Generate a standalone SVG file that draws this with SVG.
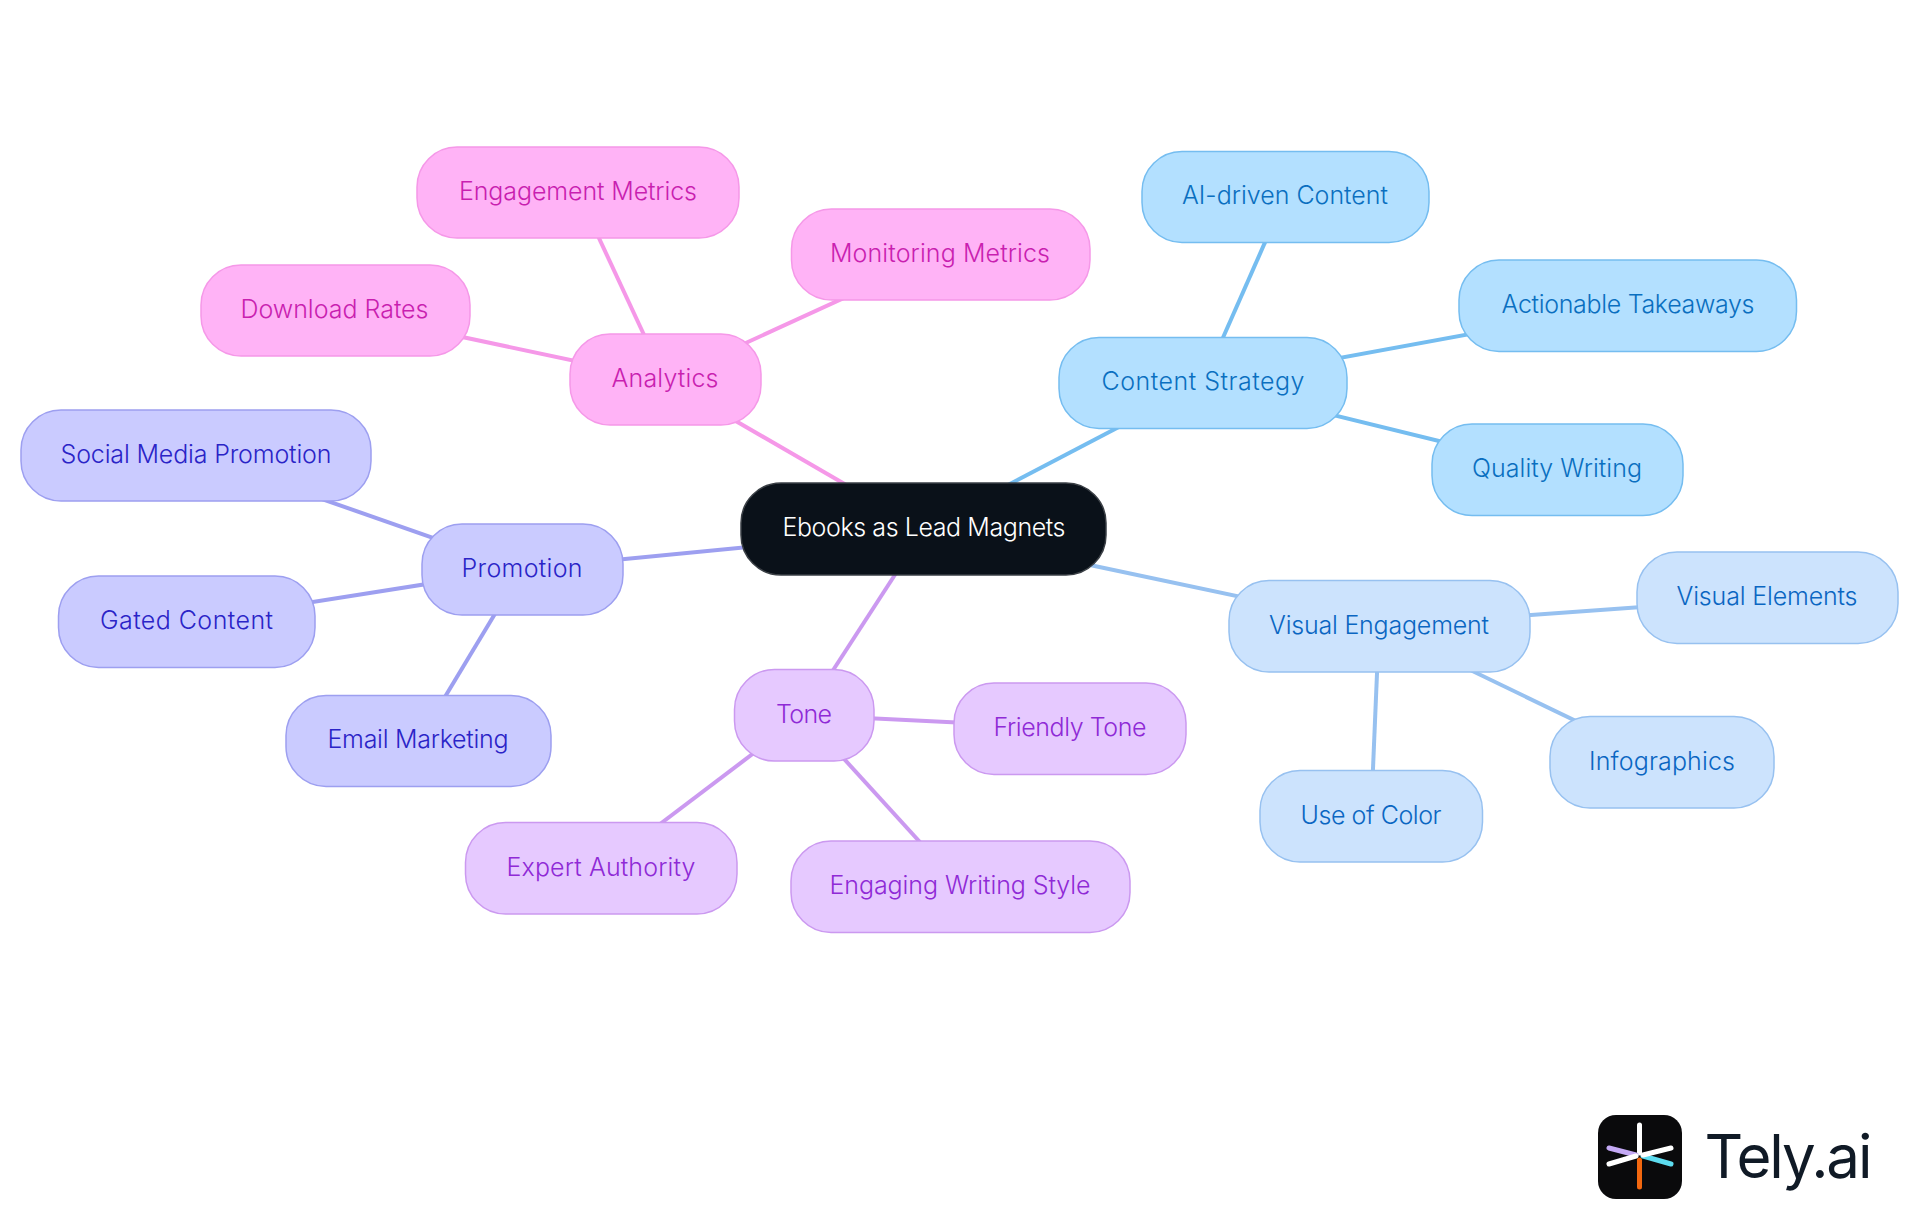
<svg xmlns="http://www.w3.org/2000/svg" width="1920" height="1215" viewBox="0 0 1920 1215">
<style>
text{font-family:"Inter","Noto Sans","Liberation Sans",sans-serif;font-size:25px;font-weight:350;text-anchor:middle}
.n rect{stroke-width:1.5;rx:40px}
#edges line{stroke-width:4;fill:none}
.pink rect{fill:#ffb3f6;stroke:#f598e8}.pink text{fill:#c91fb0}.pink-l{stroke:#f598e8}
.blue rect{fill:#b3e0ff;stroke:#75bdf0}.blue text{fill:#0a6fc0}.blue-l{stroke:#75bdf0}
.sky rect{fill:#cce3fd;stroke:#97c1f0}.sky text{fill:#0a66c2}.sky-l{stroke:#97c1f0}
.ind rect{fill:#cacbff;stroke:#9d9ff0}.ind text{fill:#2a24c7}.ind-l{stroke:#9d9ff0}
.pur rect{fill:#e6c9ff;stroke:#cb99f0}.pur text{fill:#8f2ad6}.pur-l{stroke:#cb99f0}
</style>
<rect width="1920" height="1215" fill="#fff"/>
<g id="edges">
<line class="pink-l" x1="924" y1="530" x2="665" y2="380"/>
<line class="pink-l" x1="665" y1="380" x2="578" y2="193"/>
<line class="pink-l" x1="665" y1="380" x2="335" y2="310"/>
<line class="pink-l" x1="665" y1="380" x2="940" y2="254"/>
<line class="blue-l" x1="922" y1="530" x2="1203" y2="383"/>
<line class="blue-l" x1="1203" y1="383" x2="1285" y2="197"/>
<line class="blue-l" x1="1203" y1="383" x2="1628" y2="305"/>
<line class="blue-l" x1="1203" y1="383" x2="1557" y2="470"/>
<line class="sky-l" x1="924" y1="530" x2="1379" y2="626"/>
<line class="sky-l" x1="1379" y1="626" x2="1767" y2="598"/>
<line class="sky-l" x1="1379" y1="626" x2="1661" y2="762"/>
<line class="sky-l" x1="1379" y1="626" x2="1371" y2="816"/>
<line class="pur-l" x1="924" y1="530" x2="804" y2="715"/>
<line class="pur-l" x1="804" y1="715" x2="1070" y2="728"/>
<line class="pur-l" x1="804" y1="715" x2="960" y2="886"/>
<line class="pur-l" x1="804" y1="715" x2="602" y2="868"/>
<line class="ind-l" x1="924" y1="530" x2="522" y2="569"/>
<line class="ind-l" x1="522" y1="569" x2="196" y2="455"/>
<line class="ind-l" x1="522" y1="569" x2="186" y2="622"/>
<line class="ind-l" x1="522" y1="569" x2="419" y2="740"/>
</g>
<g id="root" class="n"><rect x="741" y="483" width="365" height="92" fill="#0a1119" stroke="#3a3f45"/><text x="924" y="536" fill="#fff" textLength="283">Ebooks as Lead Magnets</text></g>
<g id="analytics" class="n pink"><rect x="570" y="334" width="191" height="91"/><text x="665" y="387" textLength="107">Analytics</text></g>
<g id="engagement-metrics" class="n pink"><rect x="417" y="147" width="322" height="91"/><text x="578" y="200" textLength="238">Engagement Metrics</text></g>
<g id="download-rates" class="n pink"><rect x="201" y="265" width="269" height="91"/><text x="334.500" y="318" textLength="188">Download Rates</text></g>
<g id="monitoring-metrics" class="n pink"><rect x="791.500" y="209" width="298.500" height="91"/><text x="940" y="262" textLength="220">Monitoring Metrics</text></g>
<g id="content-strategy" class="n blue"><rect x="1059" y="337.500" width="288" height="91"/><text x="1203" y="390" textLength="203">Content Strategy</text></g>
<g id="ai-driven" class="n blue"><rect x="1142" y="151.500" width="287" height="91"/><text x="1285" y="204" textLength="206">AI-driven Content</text></g>
<g id="actionable" class="n blue"><rect x="1459" y="260" width="337.500" height="91.500"/><text x="1628" y="313" textLength="253">Actionable Takeaways</text></g>
<g id="quality-writing" class="n blue"><rect x="1432" y="424" width="251" height="91.500"/><text x="1557" y="477" textLength="170">Quality Writing</text></g>
<g id="visual-engagement" class="n sky"><rect x="1229" y="580.500" width="301" height="91.500"/><text x="1379" y="634" textLength="220">Visual Engagement</text></g>
<g id="visual-elements" class="n sky"><rect x="1637" y="552" width="261" height="91.500"/><text x="1767" y="605" textLength="181">Visual Elements</text></g>
<g id="infographics" class="n sky"><rect x="1550" y="716.500" width="224" height="91.500"/><text x="1662" y="770" textLength="146">Infographics</text></g>
<g id="use-of-color" class="n sky"><rect x="1260" y="770.500" width="222.500" height="91.500"/><text x="1371" y="824" textLength="141">Use of Color</text></g>
<g id="tone" class="n pur"><rect x="734.500" y="669.500" width="139.500" height="91.500"/><text x="804" y="723" textLength="56">Tone</text></g>
<g id="friendly-tone" class="n pur"><rect x="954" y="683" width="232" height="91.500"/><text x="1070" y="736" textLength="153">Friendly Tone</text></g>
<g id="engaging-style" class="n pur"><rect x="791" y="841" width="339" height="91.500"/><text x="960" y="894" textLength="261">Engaging Writing Style</text></g>
<g id="expert-authority" class="n pur"><rect x="465.500" y="822.500" width="271.500" height="91.500"/><text x="601" y="876" textLength="189">Expert Authority</text></g>
<g id="promotion" class="n ind"><rect x="422" y="524" width="201" height="91"/><text x="522" y="577" textLength="121">Promotion</text></g>
<g id="social-media" class="n ind"><rect x="21" y="410" width="350" height="91"/><text x="196" y="463" textLength="271">Social Media Promotion</text></g>
<g id="gated-content" class="n ind"><rect x="58.500" y="576" width="256.500" height="91.500"/><text x="186.500" y="629" textLength="173">Gated Content</text></g>
<g id="email-marketing" class="n ind"><rect x="286" y="695.500" width="265" height="91"/><text x="418" y="748" textLength="181">Email Marketing</text></g>
<g id="logo">
<rect x="1598" y="1115" width="84" height="84" rx="18" fill="#0a0a0c"/>
<g stroke-width="5" stroke-linecap="round" fill="none">
<line x1="1639.500" y1="1125" x2="1639.500" y2="1153" stroke="#fff"/>
<line x1="1639.500" y1="1160" x2="1639.500" y2="1187" stroke="#f2670f"/>
<line x1="1609" y1="1148" x2="1636" y2="1155" stroke="#c4a9f5"/>
<line x1="1643" y1="1156" x2="1671" y2="1164" stroke="#5ddcf0"/>
<line x1="1609" y1="1164" x2="1636" y2="1156" stroke="#fff"/>
<line x1="1643" y1="1155" x2="1671" y2="1148" stroke="#fff"/>
</g>
<text x="1788.500" y="1178" style="font-size:60px;font-weight:400" fill="#101a26" textLength="168">Tely.ai</text>
</g>
</svg>
